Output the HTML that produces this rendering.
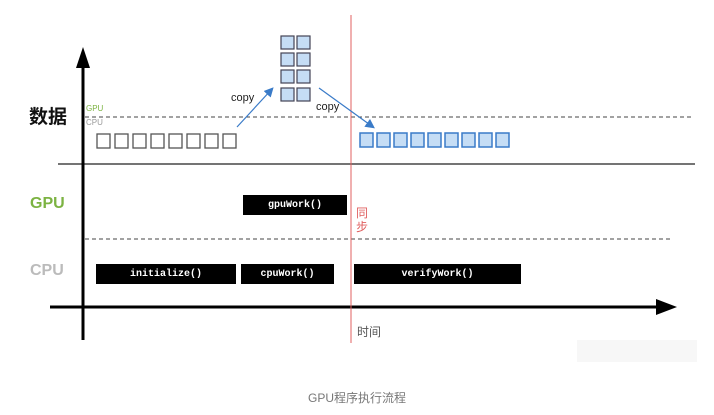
<!DOCTYPE html>
<html><head><meta charset="utf-8"><style>
body{margin:0;width:714px;height:415px;background:#fff;overflow:hidden;position:relative;font-family:"Liberation Sans","Noto Sans CJK SC",sans-serif}
.a{position:absolute}
.bk{position:absolute;background:#000;color:#fff;font-family:"Liberation Mono",monospace;font-weight:bold;font-size:10px;height:20px;display:flex;align-items:center;justify-content:center}
</style></head><body>
<svg class="a" style="left:0;top:0" width="714" height="415">
<defs><marker id="m" markerWidth="8" markerHeight="8" refX="6" refY="4" orient="auto"><path d="M0,0L8,4L0,8z" fill="#3a7bc8"/></marker></defs>
<line x1="85" y1="117" x2="693" y2="117" stroke="#444" stroke-dasharray="4,3"/>
<line x1="85" y1="239" x2="672" y2="239" stroke="#444" stroke-dasharray="4,3"/>
<line x1="58" y1="164" x2="695" y2="164" stroke="#222" stroke-width="1.2"/>
<line x1="83" y1="62" x2="83" y2="340" stroke="#000" stroke-width="3"/>
<path d="M76,68L83,47L90,68z" fill="#000"/>
<line x1="50" y1="307" x2="660" y2="307" stroke="#000" stroke-width="3"/>
<path d="M656,299L677,307L656,315z" fill="#000"/>
<line x1="351" y1="15" x2="351" y2="343" stroke="#e06060" stroke-width="1"/>
<g fill="#fff" stroke="#555" stroke-width="1.3">
<rect x="97" y="134" width="13" height="14"/><rect x="115" y="134" width="13" height="14"/><rect x="133" y="134" width="13" height="14"/><rect x="151" y="134" width="13" height="14"/><rect x="169" y="134" width="13" height="14"/><rect x="187" y="134" width="13" height="14"/><rect x="205" y="134" width="13" height="14"/><rect x="223" y="134" width="13" height="14"/>
</g>
<g fill="#c5ddf5" stroke="#445" stroke-width="1.2">
<rect x="281" y="36" width="13" height="13"/><rect x="297" y="36" width="13" height="13"/>
<rect x="281" y="53" width="13" height="13"/><rect x="297" y="53" width="13" height="13"/>
<rect x="281" y="70" width="13" height="13"/><rect x="297" y="70" width="13" height="13"/>
<rect x="281" y="88" width="13" height="13"/><rect x="297" y="88" width="13" height="13"/>
</g>
<g fill="#c5ddf5" stroke="#3a7bc8" stroke-width="1.5">
<rect x="360" y="133" width="13" height="14"/><rect x="377" y="133" width="13" height="14"/><rect x="394" y="133" width="13" height="14"/><rect x="411" y="133" width="13" height="14"/><rect x="428" y="133" width="13" height="14"/><rect x="445" y="133" width="13" height="14"/><rect x="462" y="133" width="13" height="14"/><rect x="479" y="133" width="13" height="14"/><rect x="496" y="133" width="13" height="14"/>
</g>
<line x1="237" y1="127" x2="272" y2="89" stroke="#3a7bc8" stroke-width="1.2" marker-end="url(#m)"/>
<line x1="319" y1="88" x2="373" y2="127" stroke="#3a7bc8" stroke-width="1.2" marker-end="url(#m)"/>
<rect x="577" y="340" width="120" height="22" fill="#f7f7f7"/>
</svg>
<div class="a" style="left:231px;top:92px;font-size:11px;color:#222">copy</div>
<div class="a" style="left:316px;top:101px;font-size:11px;color:#222">copy</div>
<div class="a" style="left:29px;top:102px;font-size:19px;font-weight:bold;color:#111">数据</div>
<div class="a" style="left:86px;top:104px;font-size:8px;color:#7cb342">GPU</div>
<div class="a" style="left:86px;top:118px;font-size:8px;color:#999">CPU</div>
<div class="a" style="left:30px;top:195px;font-size:16px;font-weight:bold;color:#7cb342">GPU</div>
<div class="a" style="left:30px;top:262px;font-size:16px;font-weight:bold;color:#bbb">CPU</div>
<div class="bk" style="left:243px;top:195px;width:104px">gpuWork()</div>
<div class="bk" style="left:96px;top:264px;width:140px">initialize()</div>
<div class="bk" style="left:241px;top:264px;width:93px">cpuWork()</div>
<div class="bk" style="left:354px;top:264px;width:167px">verifyWork()</div>
<div class="a" style="left:356px;top:206px;width:12px;font-size:12px;line-height:14px;color:#e06060">同步</div>
<div class="a" style="left:357px;top:323px;font-size:12px;color:#555">时间</div>
<div class="a" style="left:0;top:389px;width:714px;text-align:center;font-size:12px;color:#777">GPU程序执行流程</div>
</body></html>
